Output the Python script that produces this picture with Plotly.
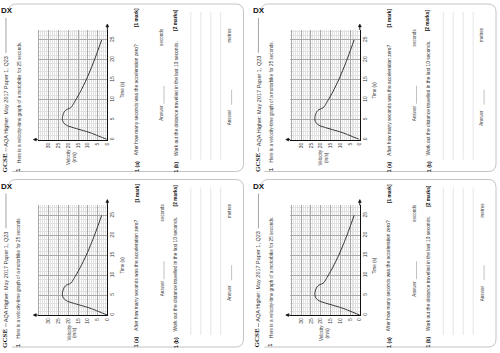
import plotly.graph_objects as go

W, H = 500, 353

# ---- data ----
time_s = [0, 0.5, 1, 1.5, 2, 2.5, 3, 3.5, 4, 4.5, 5, 5.5, 6, 6.5, 7, 7.5, 7.8, 8.2, 9, 10, 12, 15, 18, 20, 22, 25]
velocity = [0, 2.5, 5, 7.5, 10.5, 14, 17.5, 20.5, 22, 22.7, 23, 23, 22.8, 22.5, 22, 21, 19.5, 18.3, 17.3, 16.1, 13.8, 10.8, 8.2, 6.6, 5.1, 2.9]
vel_ticks = [0, 5, 10, 15, 20, 25, 30]
time_ticks = [0, 5, 10, 15, 20, 25]

header_text = "AQA Higher: May 2017 Paper 1, Q23"
intro_text = "Here is a velocity-time graph of a motorbike for 25 seconds."
qa_text = "After how many seconds was the acceleration zero?"
qb_text = "Work out the distance travelled in the last 10 seconds."

card_offsets = [(0, 0), (254, 0), (0, 176), (254, 176)]

FONT = "Liberation Sans, Arial, sans-serif"


def X(p):
    return p / W


def Y(p):
    return 1 - p / H


fig = go.Figure()
annotations = []
shapes = []


def text(x, y, s, size, bold=False, color="#222", xa="center", ya="middle", family=FONT, angle=-90):
    annotations.append(dict(
        x=X(x), y=Y(y), xref="paper", yref="paper", text=("<b>%s</b>" % s) if bold else s,
        showarrow=False, textangle=angle, xanchor=xa, yanchor=ya,
        font=dict(size=size, color=color, family=family), borderpad=0,
    ))


def line(x0, y0, x1, y1, color="#888", width=0.8):
    shapes.append(dict(type="line", xref="paper", yref="paper", x0=X(x0), y0=Y(y0), x1=X(x1), y1=Y(y1),
                       line=dict(color=color, width=width)))


def path(pts_str, color, width=1, fill=None):
    d = dict(type="path", xref="paper", yref="paper", path=pts_str, line=dict(color=color, width=width))
    if fill:
        d["fillcolor"] = fill
    shapes.append(d)


def P(x, y):
    return "%.5f,%.5f" % (X(x), Y(y))


for k, (ox, oy) in enumerate(card_offsets):
    n = "" if k == 0 else str(k + 1)
    xa_name = "xaxis" + n
    ya_name = "yaxis" + n

    fig.add_trace(go.Scatter(
        x=velocity, y=time_s, mode="lines", line=dict(color="#333", width=1, shape="spline", smoothing=0.6),
        xaxis="x" + n, yaxis="y" + n, hoverinfo="skip", showlegend=False,
    ))

    fig.update_layout(**{
        xa_name: dict(
            domain=[X(ox + 38), X(ox + 108)], range=[35.6, 0], anchor="y" + n,
            tickvals=vel_ticks + [35], ticktext=[str(v) for v in vel_ticks] + [""],
            tickangle=-90, tickfont=dict(size=5, family=FONT, color="#333"),
            showgrid=True, gridcolor="#a8a8a8", gridwidth=0.6,
            minor=dict(dtick=1, tick0=0, showgrid=True, gridcolor="#e2e2e2", gridwidth=0.4),
            showline=True, linecolor="#111", linewidth=1, zeroline=False, ticks="",
            fixedrange=True,
        ),
        ya_name: dict(
            domain=[Y(oy + 140), Y(oy + 30)], range=[0, 27.5], anchor="x" + n, side="right",
            tickvals=time_ticks, ticktext=[str(t) for t in time_ticks],
            tickangle=-90, tickfont=dict(size=5, family=FONT, color="#333"),
            showgrid=True, gridcolor="#a8a8a8", gridwidth=0.6,
            minor=dict(dtick=1, tick0=0, showgrid=True, gridcolor="#e2e2e2", gridwidth=0.4),
            showline=True, linecolor="#111", linewidth=1, zeroline=False, ticks="",
            fixedrange=True,
        ),
    })

    # axis extensions and arrowheads
    line(ox + 38, oy + 140, ox + 34, oy + 140, color="#111", width=1)
    path("M %s L %s L %s Z" % (P(ox + 33.5, oy + 140), P(ox + 36.5, oy + 138.5), P(ox + 36.5, oy + 141.5)), "#111", 0.5, "#111")
    line(ox + 108, oy + 30, ox + 108, oy + 25, color="#111", width=1)
    path("M %s L %s L %s Z" % (P(ox + 108, oy + 24), P(ox + 106.5, oy + 27), P(ox + 109.5, oy + 27)), "#111", 0.5, "#111")

    # card border (rounded, open on the left where the header sits)
    path("M %s L %s Q %s %s L %s Q %s %s L %s Q %s %s" % (
        P(ox + 12, oy + 172), P(ox + 237, oy + 172), P(ox + 245, oy + 172), P(ox + 245, oy + 164),
        P(ox + 245, oy + 12), P(ox + 245, oy + 4), P(ox + 237, oy + 4),
        P(ox + 16, oy + 4), P(ox + 10, oy + 4), P(ox + 9, oy + 9)), "#c4c4c4", 1)

    # header
    line(ox + 6, oy + 152, ox + 6, oy + 148, color="#666", width=0.6)
    line(ox + 6, oy + 53, ox + 6, oy + 18, color="#666", width=0.6)
    text(ox + 5, oy + 163, "GCSE", 7, bold=True, color="#111", family="Liberation Serif, serif")
    text(ox + 6, oy + 101, header_text, 5.5, color="#333")
    text(ox + 7, oy + 11, "DX", 8, bold=True, color="#111", angle=0)

    # intro
    text(ox + 18, oy + 170, "1", 5, bold=True, color="#111")
    text(ox + 19, oy + 164, intro_text, 4.6, color="#333", ya="bottom")

    # axis titles
    text(ox + 72, oy + 158, "Velocity<br>(m/s)", 4.5, color="#333")
    text(ox + 123, oy + 90, "Time (s)", 4.5, color="#333")

    # question (a)
    text(ox + 137, oy + 167, "1 (a)", 5, bold=True, color="#111")
    text(ox + 137, oy + 157, qa_text, 4.8, color="#333", ya="bottom")
    text(ox + 138, oy + 18, "[1 mark]", 4.8, bold=True, color="#111")
    text(ox + 163, oy + 113, "Answer", 4.6, color="#333")
    line(ox + 165, oy + 104, ox + 165, oy + 86, color="#999", width=0.6)
    text(ox + 163, oy + 37, "seconds", 4.6, color="#333")

    # question (b)
    text(ox + 177, oy + 167, "1 (b)", 5, bold=True, color="#111")
    text(ox + 177, oy + 157, qb_text, 4.8, color="#333", ya="bottom")
    text(ox + 177, oy + 20, "[2 marks]", 4.8, bold=True, color="#111")
    for lx in (192, 202, 212, 222):
        line(ox + lx, oy + 12, ox + lx, oy + 160, color="#dedede", width=0.8)
    text(ox + 231, oy + 118, "Answer", 4.6, color="#333")
    line(ox + 233, oy + 105, ox + 233, oy + 90, color="#999", width=0.6)
    text(ox + 231, oy + 35, "metres", 4.6, color="#333")

fig.update_layout(
    width=W, height=H, margin=dict(l=0, r=0, t=0, b=0),
    paper_bgcolor="white", plot_bgcolor="rgba(0,0,0,0)",
    showlegend=False, annotations=annotations, shapes=shapes,
)

fig.write_html("out.html")
